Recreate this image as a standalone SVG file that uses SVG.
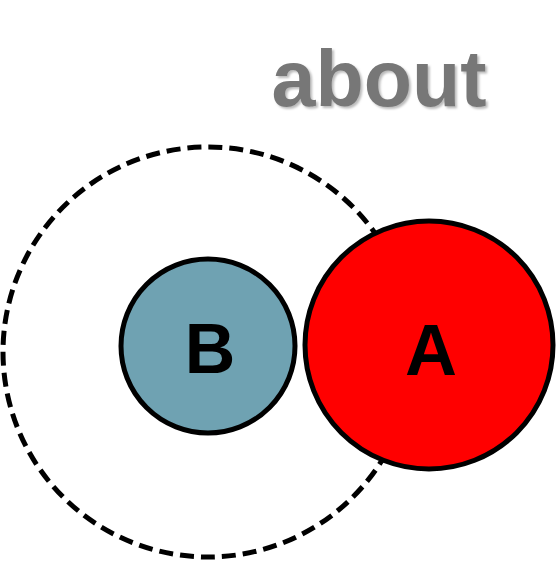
<svg xmlns="http://www.w3.org/2000/svg" width="556" height="561" viewBox="0 0 556 561">
<style>
.lbl{font-family:"Liberation Sans",Arial,sans-serif;font-weight:bold;text-anchor:middle;fill:#000}
</style>
<defs>
<filter id="sh" x="-10%" y="-10%" width="120%" height="130%">
<feDropShadow dx="2" dy="2" stdDeviation="1" flood-color="#bbbbbb"/>
</filter>
</defs>
<rect width="556" height="561" fill="#fff"/>
<text x="379" y="106" font-family="Liberation Sans, Arial, sans-serif" font-weight="bold" font-size="79" fill="#777777" text-anchor="middle" filter="url(#sh)">about</text>
<g id="orbit">
<circle cx="208" cy="352" r="205" fill="none" stroke="#000" stroke-width="5" stroke-dasharray="14 7"/>
</g>
<g id="nodeB">
<circle cx="208" cy="346" r="87" fill="#6fa2b2" stroke="#000" stroke-width="5"/>
<text class="lbl" x="210" y="373" font-size="70">B</text>
</g>
<g id="nodeA">
<circle cx="429" cy="345" r="124" fill="#ff0000" stroke="#000" stroke-width="5"/>
<text class="lbl" x="431" y="375" font-size="72">A</text>
</g>
<g id="connectors"></g>
</svg>
